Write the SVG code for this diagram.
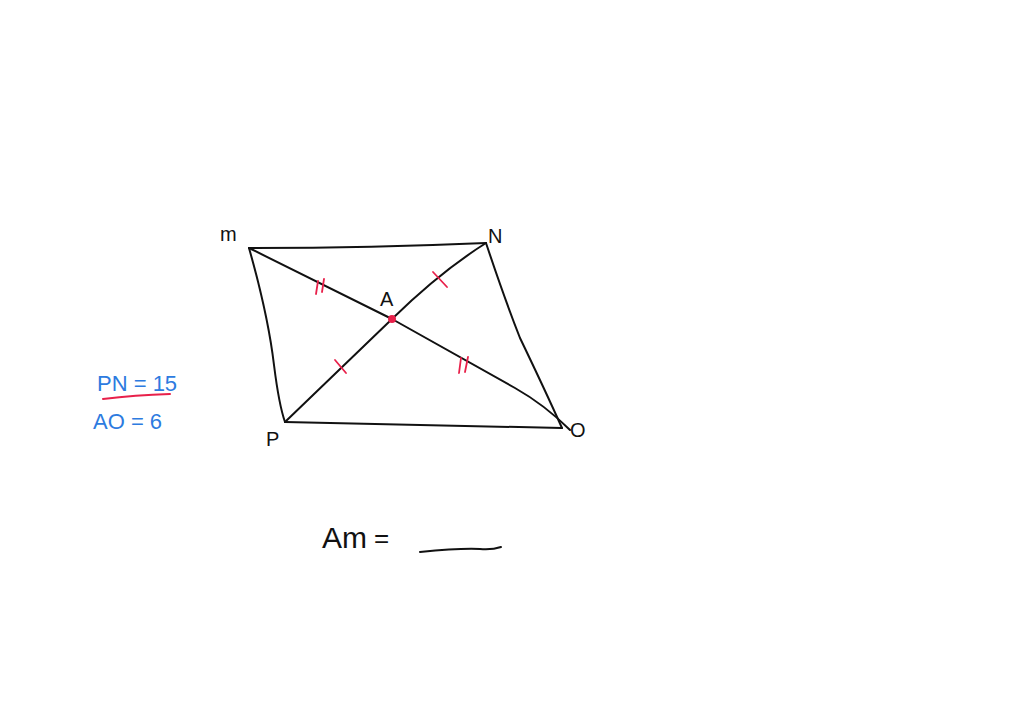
<svg xmlns="http://www.w3.org/2000/svg" width="1024" height="712" viewBox="0 0 1024 712">
<style>
.ln{fill:none;stroke:#111;stroke-width:2;stroke-linecap:round;stroke-linejoin:round}
.tk{fill:none;stroke:#e8204a;stroke-width:1.8;stroke-linecap:round}
.lb{font-family:"Liberation Sans",Arial,sans-serif;font-size:20px;fill:#111}
.bl{font-family:"Liberation Sans",Arial,sans-serif;font-size:22px;fill:#2d7be0}
.big{font-size:30px}
.eq{font-size:26px}
</style>
<rect width="1024" height="712" fill="#fff"/>
<g id="connectors">
<path class="ln" d="M249,248 Q370,248 486,243"/>
<path class="ln" d="M486,243 Q505,300 520,338 Q545,390 562,428"/>
<path class="ln" d="M285,422 L420,425 L562,428"/>
<path class="ln" d="M249,248 Q268,315 274,365 Q279,405 285,422"/>
<path class="ln" d="M249,248 L392,319 L515,388 Q545,405 570,430"/>
<path class="ln" d="M285,422 L392,319 Q440,272 486,243"/>
</g>
<g id="ticks">
<path class="tk" d="M318,281 L316,294 M324,279 L322,292"/>
<path class="tk" d="M433,272 L447,287"/>
<path class="tk" d="M335,360 L346,373"/>
<path class="tk" d="M461,358 L459,373 M468,357 L465,372"/>
</g>
<g id="node-A">
<circle cx="392" cy="319" r="4" fill="#e8204a"/>
<text class="lb" x="380" y="306">A</text>
</g>
<g id="node-M"><text class="lb" x="220" y="241">m</text></g>
<g id="node-N"><text class="lb" x="488" y="243">N</text></g>
<g id="node-P"><text class="lb" x="266" y="446">P</text></g>
<g id="node-O"><text class="lb" x="570" y="437">O</text></g>
<g id="given">
<text class="bl" x="97" y="391">PN = 15</text>
<path d="M103,399 Q135,395 170,394" fill="none" stroke="#e8204a" stroke-width="2" stroke-linecap="round"/>
<text class="bl" x="93" y="429">AO = 6</text>
</g>
<g id="question">
<text class="lb big" x="322" y="548">Am</text>
<text class="lb eq" x="374" y="547">=</text>
<path class="ln" d="M420,552 Q460,548 480,549 Q492,550 501,547"/>
</g>
</svg>
